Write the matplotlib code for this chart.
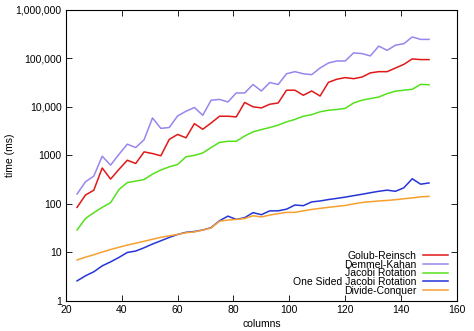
import numpy as np
import matplotlib
matplotlib.use("Agg")
import matplotlib.pyplot as plt
from matplotlib.ticker import FixedLocator, FixedFormatter, NullLocator

plt.rcParams['font.family'] = ['Liberation Sans', 'DejaVu Sans']

columns = list(range(24, 151, 3))

golub_reinsch = [85, 152, 192, 550, 325, 515, 795, 680, 1180, 1090, 980, 2130, 2700, 2300,
                 4500, 3450, 4650, 6400, 6400, 6200, 12300, 10000, 9500, 11300, 12000,
                 22000, 22000, 17300, 21200, 16700, 32000, 37000, 40000, 38000, 41000,
                 50000, 53000, 53000, 63000, 75000, 97000, 94000, 94000]
demmel_kahan = [160, 285, 375, 960, 630, 1050, 1700, 1450, 2100, 5900, 3600, 3750, 6500, 8100,
                9700, 6700, 13700, 14200, 12600, 19300, 19300, 28800, 21200, 31700, 28800,
                48000, 53000, 48000, 46000, 63000, 80000, 88000, 88000, 129000, 125000,
                112000, 178000, 146000, 186000, 200000, 275000, 245000, 245000]
jacobi = [29, 50, 66, 85, 106, 198, 275, 295, 318, 410, 500, 580, 650, 935,
          1000, 1120, 1450, 1850, 1950, 1950, 2500, 3050, 3400, 3750, 4200,
          4900, 5500, 6400, 6900, 7900, 8500, 8800, 9300, 12000, 13700,
          14800, 15900, 18700, 21000, 22000, 23000, 29000, 28500]
one_sided = [2.6, 3.3, 4.0, 5.3, 6.4, 7.9, 10, 10.7, 12.5, 14.9, 17.4, 20.4, 23.5, 26,
             27, 29, 32.5, 45, 56, 48, 52, 66, 60, 72, 72,
             78, 95, 92, 110, 115, 123, 130, 138, 148, 158,
             170, 182, 192, 182, 215, 330, 255, 270]
divide_conquer = [7, 8, 9, 10.2, 11.5, 12.8, 14.2, 15.5, 17, 18.7, 20.5, 22, 23.5, 25.5,
                  26.5, 29, 32, 44, 46.5, 48, 50, 57, 54, 59, 63,
                  67, 67, 72, 77, 81, 85, 89, 93, 100, 107,
                  111, 115, 118, 122, 128, 133, 140, 143]

labels = ["Golub-Reinsch", "Demmel-Kahan", "Jacobi Rotation",
          "One Sided Jacobi Rotation", "Divide-Conquer"]
colors = ["#e01818", "#9a85ee", "#55e01c", "#2535d8", "#f7a030"]

fig = plt.figure(figsize=(4.74, 3.31), dpi=100)
ax = fig.add_axes([0.139, 0.0906, 0.825, 0.880])

for y, lab, c in zip([golub_reinsch, demmel_kahan, jacobi, one_sided, divide_conquer], labels, colors):
    ax.plot(columns, y, color=c, lw=1.1, label=lab)

ax.set_yscale('log')
ax.set_ylim(1, 1e6)
ax.set_xlim(20, 160)
yt = [1, 10, 100, 1000, 1e4, 1e5, 1e6]
ax.yaxis.set_major_locator(FixedLocator(yt))
ax.yaxis.set_major_formatter(FixedFormatter(["1", "10", "100", "1000", "10,000", "100,000", "1,000,000"]))
ax.yaxis.set_minor_locator(NullLocator())
ax.set_xticks(range(20, 161, 20))
ax.tick_params(direction='in', top=True, right=True, labelsize=7.5, length=4, width=0.6, pad=3)
for s in ax.spines.values():
    s.set_linewidth(0.8)

ax.set_xlabel("columns", fontsize=7.5, labelpad=3)
ax.set_ylabel("time (ms)", fontsize=7.5)
ax.yaxis.set_label_coords(-0.13, 0.5)

ax.legend(loc='lower right', frameon=False, markerfirst=False, fontsize=7.5,
          handlelength=2.4, handletextpad=0.6, labelspacing=-0.12,
          borderaxespad=0.1, bbox_to_anchor=(0.99, 0.0))

fig.savefig("out.png", dpi=100)
